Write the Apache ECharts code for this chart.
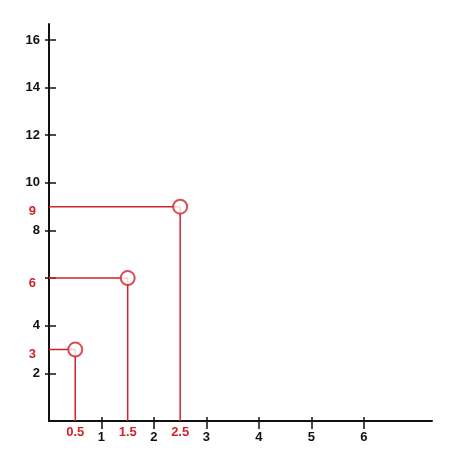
<!DOCTYPE html>
<html>
<head>
<meta charset="utf-8">
<script src="https://cdn.jsdelivr.net/npm/echarts@6/dist/echarts.min.js"></script>
<style>
html, body { margin: 0; padding: 0; background: #fff; }
#main { width: 474px; height: 474px; }
</style>
</head>
<body>
<div id="main"></div>
<script>
// points
var X_VALS = [0.5, 1.5, 2.5];
var Y_VALS = [3, 6, 9];
// axis ticks and labels
var X_TICKS = [1, 2, 3, 4, 5, 6];
var Y_TICKS = [2, 4, 6, 8, 10, 12, 14, 16];
var Y_LABELS = [2, 4, 8, 10, 12, 14, 16];

var RED = '#d0232b';
var INK = '#111';
var FONT = 'Liberation Sans';

function valueAxis(max, opts) {
	var ax = {
		type: 'value', min: 0, max: max,
		splitLine: { show: false },
		axisLine: { show: false },
		axisTick: { show: false },
		axisLabel: { show: false }
	};
	for (var k in opts) ax[k] = opts[k];
	return ax;
}

var myChart = echarts.init(document.getElementById('main'));

var series = [];
for (var i = 0; i < X_VALS.length; i++) {
	series.push({
		type: 'line',
		data: [[0, Y_VALS[i]], [X_VALS[i], Y_VALS[i]], [X_VALS[i], 0]],
		symbol: 'none',
		lineStyle: { color: RED, width: 1.5 },
		silent: true,
		z: 3
	});
}
series.push({
	type: 'scatter',
	data: X_VALS.map(function(x, i) { return [x, Y_VALS[i]]; }),
	symbol: 'circle',
	symbolSize: 14,
	itemStyle: { color: '#fff', borderColor: RED, borderWidth: 2 },
	z: 5
});

var XMAX = 7.3, YMAX = 16.67;

myChart.setOption({
	animation: false,
	grid: { left: 49, right: 42, top: 24, bottom: 53 },
	xAxis: [
		valueAxis(XMAX, {
			axisLine: { show: true, onZero: false, lineStyle: { color: INK, width: 2 } },
			axisTick: { show: true, length: 8, customValues: X_TICKS, lineStyle: { color: INK, width: 1.5 } },
			axisLabel: { show: true, customValues: X_TICKS, margin: 10, color: INK,
				fontFamily: FONT, fontWeight: 'bold', fontSize: 13 }
		}),
		valueAxis(XMAX, {
			position: 'bottom',
			axisTick: { show: true, inside: true, length: 4, customValues: X_TICKS, lineStyle: { color: INK, width: 1.5 } }
		}),
		valueAxis(XMAX, {
			position: 'bottom',
			axisLabel: { show: true, customValues: X_VALS, margin: 5, color: RED,
				fontFamily: FONT, fontWeight: 'bold', fontSize: 13 }
		})
	],
	yAxis: [
		valueAxis(YMAX, {
			axisLine: { show: true, onZero: false, lineStyle: { color: INK, width: 2 } },
			axisTick: { show: true, length: 4, customValues: Y_TICKS, lineStyle: { color: INK, width: 1.5 } },
			axisLabel: { show: true, customValues: Y_LABELS, margin: 9, color: INK,
				fontFamily: FONT, fontWeight: 'bold', fontSize: 13 }
		}),
		valueAxis(YMAX, {
			position: 'left',
			axisTick: { show: true, inside: true, length: 7, customValues: Y_TICKS, lineStyle: { color: INK, width: 1.5 } }
		}),
		valueAxis(YMAX, {
			position: 'left',
			axisLabel: { show: true, customValues: Y_VALS, margin: 13, color: RED,
				fontFamily: FONT, fontWeight: 'bold', fontSize: 13,
				verticalAlign: 'top', lineHeight: 10 }
		})
	],
	series: series
});
</script>
</body>
</html>
